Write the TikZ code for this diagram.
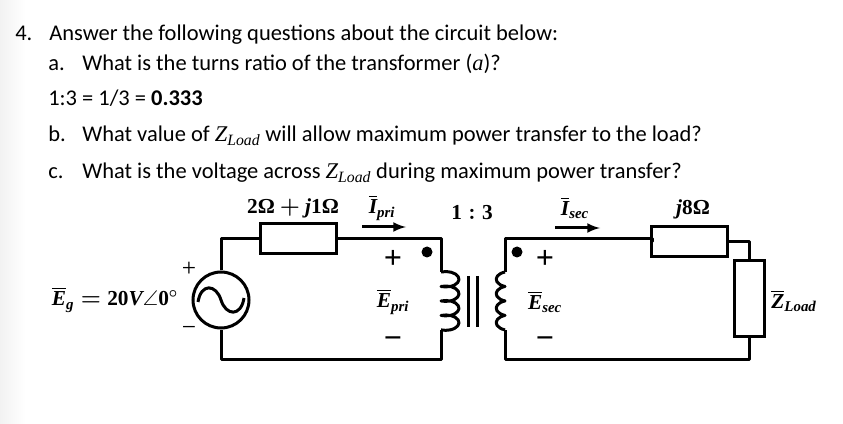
\documentclass[tikz,border=0pt]{standalone}
\usepackage{amsmath,amssymb}
\usepackage{fontspec}
\setmainfont{Carlito}
\newfontfamily\eqfont{Liberation Serif}
\usetikzlibrary{calc}

\newcommand{\ital}[1]{\text{\eqfont\itshape #1}}
\newcommand{\bld}[1]{\text{\eqfont\bfseries\itshape #1}}
\newcommand{\upb}[1]{\text{\eqfont\bfseries #1}}

\begin{document}
\begin{tikzpicture}[x=0.75pt,y=-0.75pt]

      \tikzset{
      line/.style={fill=none, draw=black, line width=2.25pt, line join=round},
      txt/.style={anchor=base west, inner sep=0pt, font=\fontsize{16.85}{20}\selectfont},
      lbl/.style={inner sep=0pt, font=\fontsize{16}{18}\selectfont},
      box/.style={rectangle, draw=black, line width=2.25pt, inner sep=0pt},
      sign/.style={inner sep=0pt, font=\fontsize{24}{26}\selectfont},
      }

      \useasboundingbox (0,0) rectangle (843,424);
      \shade[left color=black!5, right color=white] (0,0) rectangle (26,424);

      %questions
      \node[txt] (num) at (15,41) {4.};
      \node[txt] (qmain) at (49,41) {Answer the following questions about the circuit below:};
      \node[txt] (la) at (48,71) {a.};
      \node[txt] (qa) at (82,71) {What is the turns ratio of the transformer ($\ital{a}$)?};
      \node[txt] (ans) at (48,106) {1:3 = 1/3 = \textbf{0.333}};
      \node[txt] (lb) at (48,142) {b.};
      \node[txt] (qb) at (82,142) {What value of $\ital{Z}_{\ital{Load}}$ will allow maximum power transfer to the load?};
      \node[txt] (lc) at (48,179) {c.};
      \node[txt] (qc) at (82,179) {What is the voltage across $\ital{Z}_{\ital{Load}}$ during maximum power transfer?};

      %source
      \node[circle, draw=black, line width=2.25pt, minimum size=42pt, inner sep=0pt] (src) at (221,300) {};
      \draw[line] ($(src.center)+(-23,2)$) .. controls ($(src.center)+(-20,-17)$) and ($(src.center)+(-5,-16)$) .. (src.center)
        .. controls ($(src.center)+(5,16)$) and ($(src.center)+(20,17)$) .. ($(src.center)+(23,-2)$);

      %resistors
      \node[box, minimum width=57pt, minimum height=22.5pt] (rpri) at (298,239) {};
      \node[box, minimum width=56.5pt, minimum height=22pt] (rsec) at (689.5,241.5) {};
      \node[box, minimum width=22.5pt, minimum height=56.5pt] (zload) at (749,298.5) {};

      %transformer
      \coordinate (ptop) at (441,272);
      \coordinate (pbot) at (441,330);
      \coordinate (stop) at (505,272);
      \coordinate (sbot) at (505,330);
      \coordinate (pcor) at (441,239);
      \coordinate (scor) at (505,239);
      \coordinate (pend) at (441,359);
      \coordinate (send) at (505,359);
      \coordinate (sjog) at (652,239);
      \coordinate (c1a) at (468,276);
      \coordinate (c1b) at (468,327);
      \coordinate (c2a) at (477,276);
      \coordinate (c2b) at (477,327);
      \draw[line] (ptop) \foreach \i in {1,...,4} {arc[start angle=-110, end angle=110, x radius=13.4, y radius=7.7]};
      \draw[line] (stop) \foreach \i in {1,...,4} {arc[start angle=250, end angle=110, x radius=13.4, y radius=7.7]};
      \draw[line] (c1a) -- (c1b);
      \draw[line] (c2a) -- (c2b);
      \fill (427,252) circle (5.5);
      \fill (517,252) circle (5.5);

      %wires
      \draw[line] (src.north) |- (rpri.west);
      \draw[line] (rpri.east) -- (pcor) -- (ptop);
      \draw[line] (src.south) |- (pend) -- (pbot);
      \draw[line] (stop) -- (scor) -- (sjog) |- (rsec.west);
      \draw[line] (rsec.east) -| (zload.north);
      \draw[line] (zload.south) |- (send) -- (sbot);

      %currents
      \coordinate (ipa) at (362,227);
      \coordinate (ipb) at (406,227);
      \coordinate (isa) at (555,228);
      \coordinate (isb) at (600,228);
      \draw[line, -latex] (ipa) -- (ipb);
      \draw[line, -latex] (isa) -- (isb);

      %labels
      \node[lbl] (leg) at (115,300) {$\overline{\bld{E}}_{\bld{g}} \boldsymbol{=} \upb{20}\bld{V}\boldsymbol{\angle}\upb{0}\boldsymbol{^\circ}$};
      \node[lbl] (lrp) at (293,208) {$\upb{2Ω}\boldsymbol{+}\bld{j}\upb{1Ω}$};
      \node[lbl] (lip) at (382,208) {$\overline{\bld{I}}_{\bld{pri}}$};
      \node[lbl] (lrat) at (472,213) {$\upb{1}\boldsymbol{:}\upb{3}$};
      \node[lbl] (lis) at (575,208) {$\overline{\bld{I}}_{\bld{sec}}$};
      \node[lbl] (lrs) at (693,209) {$\bld{j}\upb{8Ω}$};
      \node[lbl] (lep) at (393,302) {$\overline{\bld{E}}_{\bld{pri}}$};
      \node[lbl] (les) at (545,302) {$\overline{\bld{E}}_{\bld{sec}}$};
      \node[lbl] (lz) at (794,301) {$\overline{\bld{Z}}_{\bld{Load}}$};

      %signs
      \node[sign, font=\fontsize{19}{21}\selectfont] (sp) at (189,269) {\eqfont +};
      \node[sign, font=\fontsize{19}{21}\selectfont] (sm) at (189,331) {\eqfont −};
      \node[sign] (pp) at (393,259) {\eqfont\bfseries +};
      \node[sign] (pm) at (393,343) {\eqfont\bfseries −};
      \node[sign] (qp) at (545,259) {\eqfont\bfseries +};
      \node[sign] (qm) at (545,343) {\eqfont\bfseries −};
\end{tikzpicture}
\end{document}
